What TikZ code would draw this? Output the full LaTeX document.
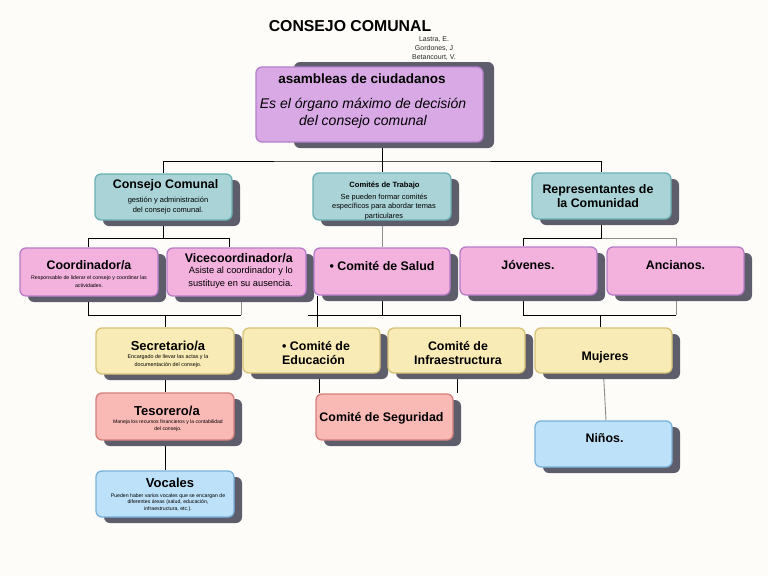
\documentclass[tikz,border=0pt]{standalone}
\usepackage{fontspec}
\setmainfont{Liberation Sans}
\usetikzlibrary{shadows}
\definecolor{bg}{HTML}{FDFCF8}
\definecolor{shd}{HTML}{5E5D6C}
\definecolor{purF}{HTML}{D9A9E6}
\definecolor{purD}{HTML}{B57FCA}
\definecolor{tealF}{HTML}{A9D3D6}
\definecolor{tealD}{HTML}{6BB1B4}
\definecolor{pinkF}{HTML}{F3B2DE}
\definecolor{pinkD}{HTML}{B67BC8}
\definecolor{yelF}{HTML}{F8EBB5}
\definecolor{yelD}{HTML}{D6C377}
\definecolor{salF}{HTML}{F9BAB6}
\definecolor{salD}{HTML}{D57F7C}
\definecolor{bluF}{HTML}{BCE1F8}
\definecolor{bluD}{HTML}{78B2DA}
\definecolor{lineG}{HTML}{8C8C8C}
\pgfdeclarelayer{back}
\pgfdeclarelayer{lines}
\pgfsetlayers{back,lines,main}
\tikzset{
  cardbase/.style={rounded corners=6pt, line width=1.3pt, inner sep=0pt},
  card/.style={cardbase, drop shadow={shadow xshift=8pt, shadow yshift=-6pt, fill=shd, opacity=1}},
  sz/.style={minimum width=137pt, minimum height=46pt},
  tealbox/.style={card, sz, fill=tealF, draw=tealD},
  pinkbox/.style={card, sz, fill=pinkF, draw=pinkD, minimum height=48pt},
  yelbox/.style={card, sz, fill=yelF, draw=yelD},
  salbox/.style={card, sz, fill=salF, draw=salD},
  blubox/.style={card, sz, fill=bluF, draw=bluD},
  conn/.style={line width=0.9pt, draw=black},
  conng/.style={line width=0.9pt, draw=lineG},
  ttl/.style={inner sep=0pt, align=center, font=\fontsize{12.4}{14}\selectfont\bfseries},
  ttlb/.style={inner sep=0pt, align=center, font=\fontsize{13}{15}\selectfont\bfseries},
  subtxt/.style={inner sep=0pt, align=center},
}
\begin{document}
\begin{tikzpicture}[x=1pt,y=-1pt]
\begin{pgfonlayer}{back}
\fill[bg] (0,0) rectangle (768,576);
\end{pgfonlayer}
\useasboundingbox (0,0) rectangle (768,576);

% title
\node[inner sep=0pt, font=\fontsize{15.8}{18}\selectfont\bfseries] (title) at (350,26) {CONSEJO COMUNAL};
\node[subtxt, font=\fontsize{7}{9.3}\selectfont, text=black!85] (auth) at (434,48.5) {Lastra, E.\\Gordones, J\\Betancourt, V.};

% top box
\fill[shd, rounded corners=6pt] (294,62) rectangle (494,148);
\node[cardbase, fill=purF, draw=purD, minimum width=227pt, minimum height=75pt] (top) at (369.5,104.5) {};
\node[inner sep=0pt, font=\fontsize{13.5}{16}\selectfont\bfseries] (top-t) at (362,79) {asambleas de ciudadanos};
\node[subtxt, font=\fontsize{14}{17}\selectfont\itshape] (top-s) at (363,113.5) {Es el órgano máximo de decisión\\del consejo comunal};

% level 2
\node[tealbox] (cc) at (163.5,197) {};
\node[ttl] (cc-t) at (165.5,185) {Consejo Comunal};
\node[subtxt, font=\fontsize{7.5}{10}\selectfont] (cc-s) at (168,206) {gestión y administración\\del consejo comunal.};

\node[tealbox, minimum width=138pt, minimum height=47pt] (ct) at (382,196.5) {};
\node[inner sep=0pt, font=\fontsize{7.6}{9}\selectfont\bfseries] (ct-t) at (384.5,185) {Comités de Trabajo};
\node[subtxt, font=\fontsize{7.4}{9.5}\selectfont] (ct-s) at (384,207) {Se pueden formar comités\\específicos para abordar temas\\particulares};

\node[tealbox, minimum width=139pt] (rep) at (601.5,196) {};
\node[ttl] (rep-t) at (598,196) {Representantes de\\la Comunidad};

% level 3
\node[pinkbox, minimum width=138pt] (coord) at (89,272) {};
\node[ttl] (coord-t) at (89,265) {Coordinador/a};
\node[subtxt, font=\fontsize{5.3}{8}\selectfont] (coord-s) at (89,282) {Responsable de liderar el consejo y coordinar las\\actividades.};

\node[pinkbox, minimum width=139pt] (vice) at (236.5,272) {};
\node[ttl, anchor=east] (vice-t) at (293,258) {Vicecoordinador/a};
\node[subtxt, align=right, anchor=east, font=\fontsize{9.3}{13}\selectfont] (vice-s) at (293,277.5) {Asiste al coordinador y lo\\sustituye en su ausencia.};

\node[pinkbox, minimum width=136pt, minimum height=47pt] (sal) at (382,271.5) {};
\node[ttl] (sal-t) at (382,266) {• Comité de Salud};

\node[pinkbox] (jov) at (528.5,271) {};
\node[ttl] (jov-t) at (528,265) {Jóvenes.};

\node[pinkbox] (anc) at (675.5,271) {};
\node[ttl] (anc-t) at (675.5,265) {Ancianos.};

% level 4
\node[yelbox, minimum width=138pt] (sec) at (165,351) {};
\node[ttlb] (sec-t) at (168,346) {Secretario/a};
\node[subtxt, font=\fontsize{5.4}{8}\selectfont] (sec-s) at (168,361) {Encargado de llevar las actas y la\\documentación del consejo.};

\node[yelbox, minimum height=45pt] (edu) at (311.5,350.5) {};
\node[ttl, align=left, anchor=west] (edu-t) at (282,353) {• Comité de\\Educación};

\node[yelbox, minimum height=45pt] (inf) at (456.5,350.5) {};
\node[ttl] (inf-t) at (458,353) {Comité de\\Infraestructura};

\node[yelbox, minimum height=45pt] (muj) at (603.5,350.5) {};
\node[ttl] (muj-t) at (605,357) {Mujeres};

% level 5
\node[salbox, minimum width=138pt, minimum height=47pt] (tes) at (165,416.5) {};
\node[ttlb] (tes-t) at (167,411) {Tesorero/a};
\node[subtxt, font=\fontsize{5.1}{6.5}\selectfont] (tes-s) at (168,425.5) {Maneja los recursos financieros y la contabilidad\\del consejo.};

\node[salbox] (seg) at (384.5,417) {};
\node[ttl] (seg-t) at (381.5,418) {Comité de Seguridad};

\node[blubox] (nin) at (603.5,444) {};
\node[ttl] (nin-t) at (604.5,438.5) {Niños.};

% level 6
\node[blubox, minimum width=138pt] (voc) at (165,494) {};
\node[ttlb] (voc-t) at (170,483) {Vocales};
\node[subtxt, font=\fontsize{5.2}{6.5}\selectfont] (voc-s) at (168,502.5) {Pueden haber varios vocales que se encargan de\\diferentes áreas (salud, educación,\\infraestructura, etc.).};

% connectors
\begin{pgfonlayer}{lines}
\coordinate (j1) at (382,161);
\draw[conn] (top.south -| j1) -- (j1);
\draw[conn] (cc.north) |- (j1) -| (rep.north);
\draw[conn] (j1) -- (ct.north);

\coordinate (j2) at (163.5,238);
\coordinate (j2l) at (88,238);
\coordinate (j2r) at (229,238);
\draw[conn] (cc.south) -- (j2);
\draw[conn] (j2l |- coord.north) |- (j2r) -- (j2r |- vice.north);

\draw[conng] (ct.south) -- (sal.north);

\coordinate (j3) at (601.5,238);
\coordinate (j3l) at (523,238);
\coordinate (j3r) at (676,238);
\draw[conn] (rep.south) -- (j3);
\draw[conn] (j3l |- jov.north) |- (j3);
\draw[conng] (j3) -| (j3r |- anc.north);

\coordinate (k1l) at (88,315);
\coordinate (k1r) at (241,315);
\coordinate (k1m) at (165,315);
\draw[conn] (k1l |- coord.south) -- (k1l) -- (k1r);
\draw[conng] (k1r) -- (k1r |- vice.south);
\draw[conn] (k1m) -- (sec.north);

\coordinate (k2) at (382,315);
\coordinate (k2l) at (308,315);
\coordinate (k2r) at (460,315);
\coordinate (k2e) at (317,315);
\draw[conn] (sal.south) -- (k2);
\draw[conn] (k2l) -- (k2r) -- (k2r |- inf.north);
\draw[conn] (k2e |- sal.south) -- (k2e |- edu.north);

\coordinate (k3l) at (523,315);
\coordinate (k3r) at (676,315);
\coordinate (k3m) at (600,315);
\draw[conn] (k3l |- jov.south) -- (k3l) -- (k3r);
\draw[conng] (k3r) -- (k3r |- anc.south);
\draw[conn] (k3m) -- (k3m |- muj.north);

\draw[conn] (sec.south) -- (tes.north);
\draw[conn] (tes.south) -- (voc.north);
\coordinate (m1) at (319,384);
\coordinate (m2) at (457,384);
\draw[conn] (m1 |- edu.south) -- (m1 |- seg.north);
\draw[conn] (m2 |- inf.south) -- (m2 |- seg.north);
\draw[conng] (muj.south) -- ([xshift=2.5pt]nin.north);
\end{pgfonlayer}
\end{tikzpicture}
\end{document}
